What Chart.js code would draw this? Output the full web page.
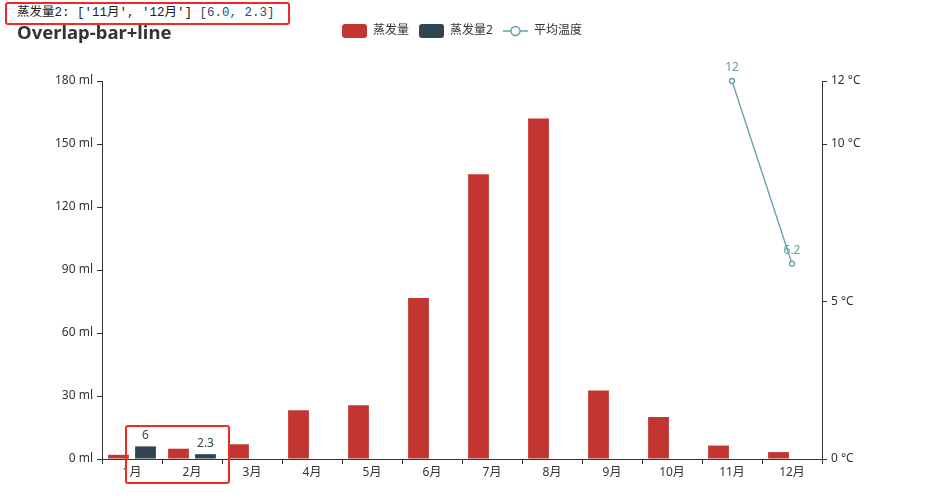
<!DOCTYPE html>
<html>
<head>
<meta charset="utf-8">
<title>Overlap-bar+line</title>
<script src="https://cdn.jsdelivr.net/npm/chart.js@4"></script>
<style>
  html, body { margin: 0; padding: 0; background: #fff; }
  #wrap { position: relative; width: 944px; height: 504px; }
  #title {
    position: absolute; left: 17px; top: 19px;
    font: bold 18.5px "Noto Sans", "Noto Sans CJK SC", sans-serif; color: #333;
  }
  #note {
    position: absolute; left: 5px; top: 2px; width: 271px; height: 19px;
    border: 2px solid #ee2a24; border-radius: 3px; background: #fff;
    font: 12.5px "Liberation Mono", "Noto Sans CJK SC", monospace;
    line-height: 19px; padding-left: 10px; box-sizing: content-box; color: #222;
    white-space: pre;
  }
  #note span { color: #1f4e79; }
  .mark {
    position: absolute; border: 2px solid #ee2a24; border-radius: 3px;
  }
</style>
</head>
<body>
<div id="wrap">
  <canvas id="chart"></canvas>
  <div id="title">Overlap-bar+line</div>
  <div id="note">蒸发量2: ['11月', '12月'] <span>[6.0, 2.3]</span></div>
  <div class="mark" style="left:125px; top:425px; width:101px; height:55px;"></div>
</div>
<script>
// ------------------------
// DATA
// ------------------------
const months = ["1月", "2月", "3月", "4月", "5月", "6月", "7月", "8月", "9月", "10月", "11月", "12月"];
const evaporation = [2.0, 4.9, 7.0, 23.2, 25.6, 76.7, 135.6, 162.2, 32.6, 20.0, 6.4, 3.3];
const evaporation2 = [6.0, 2.3];
const avgTemp = [null, null, null, null, null, null, null, null, null, null, 12, 6.2];
const tempTicks = [0, 5, 10, 12];

const RED = "#c23531";
const DARK = "#2f4554";
const TEAL = "#61a0a8";
const FONT = "'Noto Sans', 'Noto Sans CJK SC', sans-serif";

// ------------------------
// LEGEND ICONS
// ------------------------
function boxIcon(color) {
  const c = document.createElement("canvas");
  c.width = 25; c.height = 14;
  const g = c.getContext("2d");
  g.fillStyle = color;
  g.beginPath();
  g.roundRect(0, 0, 25, 14, 3);
  g.fill();
  return c;
}

function lineIcon(color) {
  const c = document.createElement("canvas");
  c.width = 25; c.height = 14;
  const g = c.getContext("2d");
  g.strokeStyle = color;
  g.lineWidth = 1.5;
  g.beginPath();
  g.moveTo(0, 7); g.lineTo(25, 7);
  g.stroke();
  g.fillStyle = "#fff";
  g.beginPath();
  g.arc(12.5, 7, 4.5, 0, Math.PI * 2);
  g.fill();
  g.stroke();
  return c;
}

const legendIcons = [boxIcon(RED), boxIcon(DARK), lineIcon(TEAL)];

// ------------------------
// PLUGINS
// ------------------------
const legendGap = {
  id: "legendGap",
  beforeInit(chart) {
    const fit = chart.legend.fit;
    chart.legend.fit = function () {
      fit.bind(chart.legend)();
      this.height += 34;
    };
  }
};

const valueLabels = {
  id: "valueLabels",
  afterDatasetsDraw(chart) {
    const ctx = chart.ctx;
    ctx.save();
    ctx.font = "12px " + FONT;
    ctx.textAlign = "center";
    ctx.textBaseline = "bottom";
    [[1, DARK, 5], [2, TEAL, 7]].forEach(([idx, color, gap]) => {
      const meta = chart.getDatasetMeta(idx);
      const data = chart.data.datasets[idx].data;
      ctx.fillStyle = color;
      meta.data.forEach((el, i) => {
        if (data[i] == null) return;
        ctx.fillText(String(data[i]), el.x, el.y - gap);
      });
    });
    ctx.restore();
  }
};

// ------------------------
// CHART
// ------------------------
Chart.defaults.font.family = FONT;
Chart.defaults.font.size = 12;
Chart.defaults.color = "#333";

new Chart(document.getElementById("chart"), {
  type: "bar",
  data: {
    labels: months,
    datasets: [
      {
        label: "蒸发量",
        data: evaporation,
        backgroundColor: RED,
        yAxisID: "y"
      },
      {
        label: "蒸发量2",
        data: evaporation2,
        backgroundColor: DARK,
        yAxisID: "y"
      },
      {
        type: "line",
        label: "平均温度",
        data: avgTemp,
        yAxisID: "y1",
        clip: false,
        borderColor: TEAL,
        borderWidth: 1.3,
        backgroundColor: "#fff",
        pointBorderColor: TEAL,
        pointBackgroundColor: "#fff",
        pointRadius: 2.5,
        pointBorderWidth: 1.3,
        pointStyle: "circle"
      }
    ]
  },
  options: {
    responsive: true,
    maintainAspectRatio: false,
    animation: false,
    datasets: {
      bar: { categoryPercentage: 0.9, barPercentage: 0.77 }
    },
    layout: { padding: { top: 15, left: 0, right: 0, bottom: 0 } },
    plugins: {
      legend: {
        position: "top",
        fullSize: false,
        labels: {
          usePointStyle: true,
          pointStyleWidth: 25,
          padding: 10,
          color: "#333",
          font: { size: 12 },
          generateLabels(chart) {
            return chart.data.datasets.map((ds, i) => ({
              text: ds.label,
              pointStyle: legendIcons[i],
              fontColor: "#333",
              lineWidth: 0,
              hidden: false,
              datasetIndex: i
            }));
          }
        }
      },
      title: { display: false },
      tooltip: { enabled: false }
    },
    scales: {
      x: {
        grid: { drawOnChartArea: false, tickLength: 5, color: "#333", offset: true },
        border: { color: "#333" },
        ticks: { padding: 1, color: "#333" },
        afterFit(scale) { scale.height = 45; }
      },
      y: {
        position: "left",
        min: 0,
        max: 180,
        ticks: { stepSize: 30, padding: 4, color: "#333", callback: v => v + " ml" },
        grid: { drawOnChartArea: false, tickLength: 5, color: "#333" },
        border: { color: "#333" },
        afterFit(scale) { scale.width = 102; }
      },
      y1: {
        position: "right",
        min: 0,
        max: 12,
        ticks: { padding: 4, color: "#333", callback: v => v + " °C" },
        afterBuildTicks(scale) { scale.ticks = tempTicks.map(v => ({ value: v })); },
        grid: { drawOnChartArea: false, tickLength: 5, color: "#333" },
        border: { color: "#333" },
        afterFit(scale) { scale.width = 122; }
      }
    }
  },
  plugins: [legendGap, valueLabels]
});
</script>
</body>
</html>
